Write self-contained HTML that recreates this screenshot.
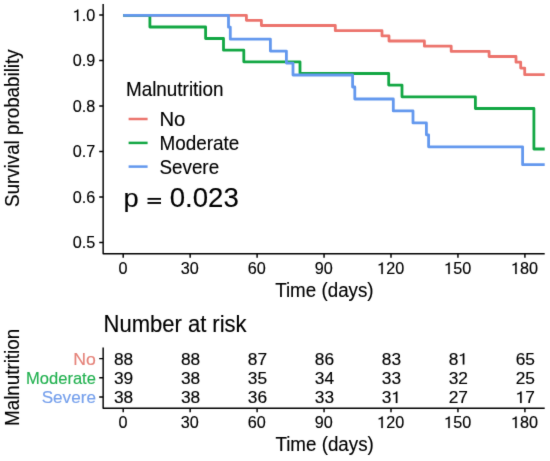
<!DOCTYPE html>
<html><head><meta charset="utf-8"><title>Kaplan-Meier survival curve</title>
<style>
html,body{margin:0;padding:0;background:#fff;}
body{width:550px;height:461px;overflow:hidden;}
svg{display:block;will-change:transform;}
text{font-family:"Liberation Sans",sans-serif;}
</style></head><body>
<svg width="550" height="461" viewBox="0 0 550 461">
<defs><filter id="soft" x="0" y="0" width="550" height="461" filterUnits="userSpaceOnUse" color-interpolation-filters="sRGB"><feConvolveMatrix order="3" kernelMatrix="0.015 0.065 0.015 0.065 0.68 0.065 0.015 0.065 0.015" edgeMode="duplicate"/></filter></defs>
<g filter="url(#soft)">
<rect width="550" height="461" fill="#fff"/>
<path d="M123.2,15.30H246.4V20.37H261.4V25.50H335.3V30.70H382.0V35.90H389.0V41.00H424.4V46.20H451.2V51.40H489.1V56.50H516.0V62.20H520.7V68.10H524.7V74.70H544.7" stroke="#EC746D" stroke-width="2.8" fill="none" stroke-linejoin="round"/>
<path d="M123.2,15.30H149.9V27.00H205.6V38.50H223.5V50.20H243.8V61.80H300.0V73.50H388.7V85.10H402.0V96.80H475.4V108.50H533.9V149.00H544.7" stroke="#12A743" stroke-width="2.8" fill="none" stroke-linejoin="round"/>
<path d="M123.2,15.30H228.5V27.17H230.3V39.13H270.4V51.10H286.4V63.07H293.0V75.00H352.6V87.00H354.8V99.00H393.3V110.90H413.0V122.90H426.4V134.80H428.6V146.80H522.6V164.65H544.7" stroke="#6398EE" stroke-width="2.8" fill="none" stroke-linejoin="round"/>
<path d="M103.15,4.1V253.8H544.7" stroke="#000" stroke-width="1.45" fill="none" stroke-linejoin="round"/>
<path d="M99.2,15.00H103.15M99.2,60.48H103.15M99.2,105.96H103.15M99.2,151.44H103.15M99.2,196.92H103.15M99.2,242.40H103.15M123.20,253.8V257.8M190.15,253.8V257.8M257.10,253.8V257.8M324.05,253.8V257.8M391.00,253.8V257.8M457.95,253.8V257.8M524.91,253.8V257.8" stroke="#000" stroke-width="1.45" fill="none"/>
<text transform="translate(72.78,21.00)" font-size="16.2" stroke="#000" stroke-width="0.15">&#8199;.0</text>
<path d="M78.37,21.00L78.37,9.61L77.28,9.61C76.96,10.71 75.87,11.28 74.19,11.38L74.19,12.46C75.31,12.41 76.25,12.17 76.91,11.69L76.91,21.00Z" stroke="#000" stroke-width="0.15"/>
<text transform="translate(95.30,66.48)" font-size="16.2" text-anchor="end" stroke="#000" stroke-width="0.15">0.9</text>
<text transform="translate(95.30,111.96)" font-size="16.2" text-anchor="end" stroke="#000" stroke-width="0.15">0.8</text>
<text transform="translate(95.30,157.44)" font-size="16.2" text-anchor="end" stroke="#000" stroke-width="0.15">0.7</text>
<text transform="translate(95.30,202.92)" font-size="16.2" text-anchor="end" stroke="#000" stroke-width="0.15">0.6</text>
<text transform="translate(95.30,248.40)" font-size="16.2" text-anchor="end" stroke="#000" stroke-width="0.15">0.5</text>
<text transform="translate(122.90,274.00)" font-size="16.2" text-anchor="middle" stroke="#000" stroke-width="0.15">0</text>
<text transform="translate(189.85,274.00)" font-size="16.2" text-anchor="middle" stroke="#000" stroke-width="0.15">30</text>
<text transform="translate(256.80,274.00)" font-size="16.2" text-anchor="middle" stroke="#000" stroke-width="0.15">60</text>
<text transform="translate(323.75,274.00)" font-size="16.2" text-anchor="middle" stroke="#000" stroke-width="0.15">90</text>
<text transform="translate(377.19,274.00)" font-size="16.2" stroke="#000" stroke-width="0.15">&#8199;20</text>
<path d="M382.78,274.00L382.78,262.61L381.69,262.61C381.37,263.71 380.28,264.28 378.60,264.38L378.60,265.46C379.72,265.41 380.66,265.17 381.32,264.69L381.32,274.00Z" stroke="#000" stroke-width="0.15"/>
<text transform="translate(444.14,274.00)" font-size="16.2" stroke="#000" stroke-width="0.15">&#8199;50</text>
<path d="M449.73,274.00L449.73,262.61L448.64,262.61C448.32,263.71 447.23,264.28 445.55,264.38L445.55,265.46C446.67,265.41 447.61,265.17 448.27,264.69L448.27,274.00Z" stroke="#000" stroke-width="0.15"/>
<text transform="translate(511.09,274.00)" font-size="16.2" stroke="#000" stroke-width="0.15">&#8199;80</text>
<path d="M516.68,274.00L516.68,262.61L515.60,262.61C515.27,263.71 514.19,264.28 512.50,264.38L512.50,265.46C513.62,265.41 514.56,265.17 515.22,264.69L515.22,274.00Z" stroke="#000" stroke-width="0.15"/>
<text transform="translate(324.40,296.90) scale(0.930,1)" font-size="20.2" text-anchor="middle" stroke="#000" stroke-width="0.15">Time (days)</text>
<text transform="translate(18.60,128.20) rotate(-90) scale(0.930,1)" font-size="20.2" text-anchor="middle" stroke="#000" stroke-width="0.15">Survival probability</text>
<text transform="translate(125.90,95.70) scale(0.913,1)" font-size="20.7" stroke="#000" stroke-width="0.15">Malnutrition</text>
<path d="M128.6,119.0H147.6" stroke="#EC746D" stroke-width="2.5"/>
<text transform="translate(159.40,126.40) scale(0.990,1)" font-size="20.5" stroke="#000" stroke-width="0.15">No</text>
<path d="M128.6,142.9H147.6" stroke="#12A743" stroke-width="2.5"/>
<text transform="translate(159.40,150.10) scale(0.922,1)" font-size="20.5" stroke="#000" stroke-width="0.15">Moderate</text>
<path d="M128.6,166.6H147.6" stroke="#6398EE" stroke-width="2.5"/>
<text transform="translate(159.40,173.60) scale(0.920,1)" font-size="20.5" stroke="#000" stroke-width="0.15">Severe</text>
<text transform="translate(123.60,206.60) scale(1.050,1)" font-size="26.0" stroke="#000" stroke-width="0.15">p</text>
<rect x="147.5" y="197.95" width="13.5" height="1.85" fill="#000"/>
<rect x="147.5" y="202.05" width="13.5" height="1.85" fill="#000"/>
<text transform="translate(169.70,206.90) scale(0.975,1)" font-size="28.3" stroke="#000" stroke-width="0.15">0.023</text>
<text transform="translate(103.50,332.40) scale(0.933,1)" font-size="23.6" stroke="#000" stroke-width="0.15">Number at risk</text>
<path d="M103.15,347.6V408.3H544.7" stroke="#000" stroke-width="1.45" fill="none" stroke-linejoin="round"/>
<path d="M99.2,358.60H103.15M99.2,377.80H103.15M99.2,397.00H103.15M123.20,408.3V412.3M190.15,408.3V412.3M257.10,408.3V412.3M324.05,408.3V412.3M391.00,408.3V412.3M457.95,408.3V412.3M524.91,408.3V412.3" stroke="#000" stroke-width="1.45" fill="none"/>
<text transform="translate(123.60,364.60) scale(1.070,1)" font-size="16.2" text-anchor="middle" stroke="#000" stroke-width="0.15">88</text>
<text transform="translate(190.55,364.60) scale(1.070,1)" font-size="16.2" text-anchor="middle" stroke="#000" stroke-width="0.15">88</text>
<text transform="translate(257.50,364.60) scale(1.070,1)" font-size="16.2" text-anchor="middle" stroke="#000" stroke-width="0.15">87</text>
<text transform="translate(324.45,364.60) scale(1.070,1)" font-size="16.2" text-anchor="middle" stroke="#000" stroke-width="0.15">86</text>
<text transform="translate(391.40,364.60) scale(1.070,1)" font-size="16.2" text-anchor="middle" stroke="#000" stroke-width="0.15">83</text>
<text transform="translate(448.71,364.60) scale(1.070,1)" font-size="16.2" stroke="#000" stroke-width="0.15">8&#8199;</text>
<path d="M464.34,364.60L464.34,353.21L463.17,353.21C462.83,354.31 461.67,354.88 459.86,354.98L459.86,356.06C461.06,356.01 462.06,355.77 462.78,355.29L462.78,364.60Z" stroke="#000" stroke-width="0.15"/>
<text transform="translate(525.31,364.60) scale(1.070,1)" font-size="16.2" text-anchor="middle" stroke="#000" stroke-width="0.15">65</text>
<text transform="translate(123.60,383.80) scale(1.070,1)" font-size="16.2" text-anchor="middle" stroke="#000" stroke-width="0.15">39</text>
<text transform="translate(190.55,383.80) scale(1.070,1)" font-size="16.2" text-anchor="middle" stroke="#000" stroke-width="0.15">38</text>
<text transform="translate(257.50,383.80) scale(1.070,1)" font-size="16.2" text-anchor="middle" stroke="#000" stroke-width="0.15">35</text>
<text transform="translate(324.45,383.80) scale(1.070,1)" font-size="16.2" text-anchor="middle" stroke="#000" stroke-width="0.15">34</text>
<text transform="translate(391.40,383.80) scale(1.070,1)" font-size="16.2" text-anchor="middle" stroke="#000" stroke-width="0.15">33</text>
<text transform="translate(458.35,383.80) scale(1.070,1)" font-size="16.2" text-anchor="middle" stroke="#000" stroke-width="0.15">32</text>
<text transform="translate(525.31,383.80) scale(1.070,1)" font-size="16.2" text-anchor="middle" stroke="#000" stroke-width="0.15">25</text>
<text transform="translate(123.60,403.00) scale(1.070,1)" font-size="16.2" text-anchor="middle" stroke="#000" stroke-width="0.15">38</text>
<text transform="translate(190.55,403.00) scale(1.070,1)" font-size="16.2" text-anchor="middle" stroke="#000" stroke-width="0.15">38</text>
<text transform="translate(257.50,403.00) scale(1.070,1)" font-size="16.2" text-anchor="middle" stroke="#000" stroke-width="0.15">36</text>
<text transform="translate(324.45,403.00) scale(1.070,1)" font-size="16.2" text-anchor="middle" stroke="#000" stroke-width="0.15">33</text>
<text transform="translate(381.76,403.00) scale(1.070,1)" font-size="16.2" stroke="#000" stroke-width="0.15">3&#8199;</text>
<path d="M397.38,403.00L397.38,391.61L396.22,391.61C395.88,392.71 394.71,393.28 392.91,393.38L392.91,394.46C394.11,394.41 395.11,394.17 395.82,393.69L395.82,403.00Z" stroke="#000" stroke-width="0.15"/>
<text transform="translate(458.35,403.00) scale(1.070,1)" font-size="16.2" text-anchor="middle" stroke="#000" stroke-width="0.15">27</text>
<text transform="translate(515.67,403.00) scale(1.070,1)" font-size="16.2" stroke="#000" stroke-width="0.15">&#8199;7</text>
<path d="M521.65,403.00L521.65,391.61L520.48,391.61C520.14,392.71 518.98,393.28 517.17,393.38L517.17,394.46C518.37,394.41 519.38,394.17 520.09,393.69L520.09,403.00Z" stroke="#000" stroke-width="0.15"/>
<text transform="translate(95.90,364.50) scale(1.050,1)" font-size="16.8" text-anchor="end" fill="#E5837A" stroke="#E5837A" stroke-width="0.15">No</text>
<text transform="translate(95.90,383.70) scale(0.985,1)" font-size="16.8" text-anchor="end" fill="#22B150" stroke="#22B150" stroke-width="0.15">Moderate</text>
<text transform="translate(95.90,402.90) scale(1.020,1)" font-size="16.8" text-anchor="end" fill="#76A0EC" stroke="#76A0EC" stroke-width="0.15">Severe</text>
<text transform="translate(122.90,428.00)" font-size="16.2" text-anchor="middle" stroke="#000" stroke-width="0.15">0</text>
<text transform="translate(189.85,428.00)" font-size="16.2" text-anchor="middle" stroke="#000" stroke-width="0.15">30</text>
<text transform="translate(256.80,428.00)" font-size="16.2" text-anchor="middle" stroke="#000" stroke-width="0.15">60</text>
<text transform="translate(323.75,428.00)" font-size="16.2" text-anchor="middle" stroke="#000" stroke-width="0.15">90</text>
<text transform="translate(377.19,428.00)" font-size="16.2" stroke="#000" stroke-width="0.15">&#8199;20</text>
<path d="M382.78,428.00L382.78,416.61L381.69,416.61C381.37,417.71 380.28,418.28 378.60,418.38L378.60,419.46C379.72,419.41 380.66,419.17 381.32,418.69L381.32,428.00Z" stroke="#000" stroke-width="0.15"/>
<text transform="translate(444.14,428.00)" font-size="16.2" stroke="#000" stroke-width="0.15">&#8199;50</text>
<path d="M449.73,428.00L449.73,416.61L448.64,416.61C448.32,417.71 447.23,418.28 445.55,418.38L445.55,419.46C446.67,419.41 447.61,419.17 448.27,418.69L448.27,428.00Z" stroke="#000" stroke-width="0.15"/>
<text transform="translate(511.09,428.00)" font-size="16.2" stroke="#000" stroke-width="0.15">&#8199;80</text>
<path d="M516.68,428.00L516.68,416.61L515.60,416.61C515.27,417.71 514.19,418.28 512.50,418.38L512.50,419.46C513.62,419.41 514.56,419.17 515.22,418.69L515.22,428.00Z" stroke="#000" stroke-width="0.15"/>
<text transform="translate(324.60,451.00) scale(0.930,1)" font-size="20.2" text-anchor="middle" stroke="#000" stroke-width="0.15">Time (days)</text>
<text transform="translate(18.50,377.40) rotate(-90) scale(0.930,1)" font-size="20.2" text-anchor="middle" stroke="#000" stroke-width="0.15">Malnutrition</text>
</g>
</svg>
</body></html>
